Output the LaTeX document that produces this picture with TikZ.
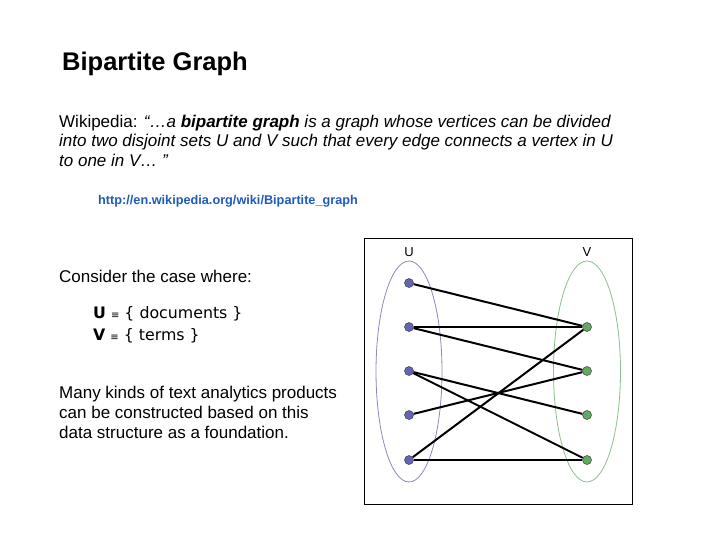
\documentclass[tikz,border=0pt]{standalone}
\usepackage{fontspec}
\setmainfont{Liberation Sans}
\newfontfamily\setsfont{DejaVu Sans}
\definecolor{urlblue}{HTML}{1F5CB8}
\definecolor{ufill}{HTML}{6464B4}
\definecolor{uring}{HTML}{8A8AC0}
\definecolor{vfill}{HTML}{62AA62}
\definecolor{vring}{HTML}{8CC08C}
\begin{document}
\begin{tikzpicture}[x=1pt,y=-1pt,
    txt/.style={inner sep=0pt,align=left,font=\fontsize{17}{19.8}\selectfont},
    uvert/.style={circle,draw=black!75,fill=ufill,minimum size=9pt,inner sep=0pt,line width=0.5pt},
    vvert/.style={circle,draw=black!75,fill=vfill,minimum size=9pt,inner sep=0pt,line width=0.5pt},
    edge/.style={line width=2pt}]
    \useasboundingbox [fill=white] (0,0) rectangle (728,546);
    % texts on the left
    \node [anchor=base west,inner sep=0pt,font=\fontsize{25.5}{30}\selectfont\bfseries] (title) at (62,70.5) {Bipartite Graph};
    \node [txt,anchor=north west] (quote) at (59,114.6) {Wikipedia: \textit{“…a \textbf{bipartite graph} is a graph whose vertices can be divided}\\
        \textit{into two disjoint sets U and V such that every edge connects a vertex in U}\\
        \textit{to one in V… ”}};
    \node [anchor=base west,inner sep=0pt,text=urlblue,font=\fontsize{12.7}{15}\selectfont\bfseries] (url) at (98,204.3) {http://en.wikipedia.org/wiki/Bipartite\_graph};
    \node [txt,anchor=north west] (case) at (59,270.3) {Consider the case where:};
    \node [anchor=base west,inner sep=0pt,font=\fontsize{15.8}{18}\setsfont] (uset) at (93,318.3) {\textbf{U} {\fontsize{10}{10}\selectfont ≡} \{ documents \}};
    \node [anchor=base west,inner sep=0pt,font=\fontsize{15.8}{18}\setsfont] (vset) at (93,340.5) {\textbf{V} {\fontsize{10}{10}\selectfont ≡} \{ terms \}};
    \node [txt,anchor=north west] (many) at (59,386) {Many kinds of text analytics products\\
        can be constructed based on this\\
        data structure as a foundation.};
    % the graph
    \draw [line width=0.8pt] (364,238) rectangle (632,504);
    \draw [uring,line width=0.8pt] (409,371.5) ellipse [x radius=33,y radius=110.5];
    \draw [vring,line width=0.8pt] (587,371.5) ellipse [x radius=33.5,y radius=110.5];
    \node [font=\fontsize{13}{15}\selectfont] (ulabel) at (409,252.5) {U};
    \node [font=\fontsize{13}{15}\selectfont] (vlabel) at (587,252.5) {V};
    \node [uvert] (u1) at (409,283) {};
    \node [uvert] (u2) at (409,327) {};
    \node [uvert] (u3) at (409,371) {};
    \node [uvert] (u4) at (409,415) {};
    \node [uvert] (u5) at (409,460) {};
    \node [vvert] (v1) at (587,327) {};
    \node [vvert] (v2) at (587,371) {};
    \node [vvert] (v3) at (587,415) {};
    \node [vvert] (v4) at (587,460) {};
    \draw [edge] (u1) -- (v1);
    \draw [edge] (u2) -- (v1);
    \draw [edge] (u2) -- (v2);
    \draw [edge] (u3) -- (v3);
    \draw [edge] (u3) -- (v4);
    \draw [edge] (u4) -- (v2);
    \draw [edge] (u5) -- (v1);
    \draw [edge] (u5) -- (v4);
\end{tikzpicture}
\end{document}
